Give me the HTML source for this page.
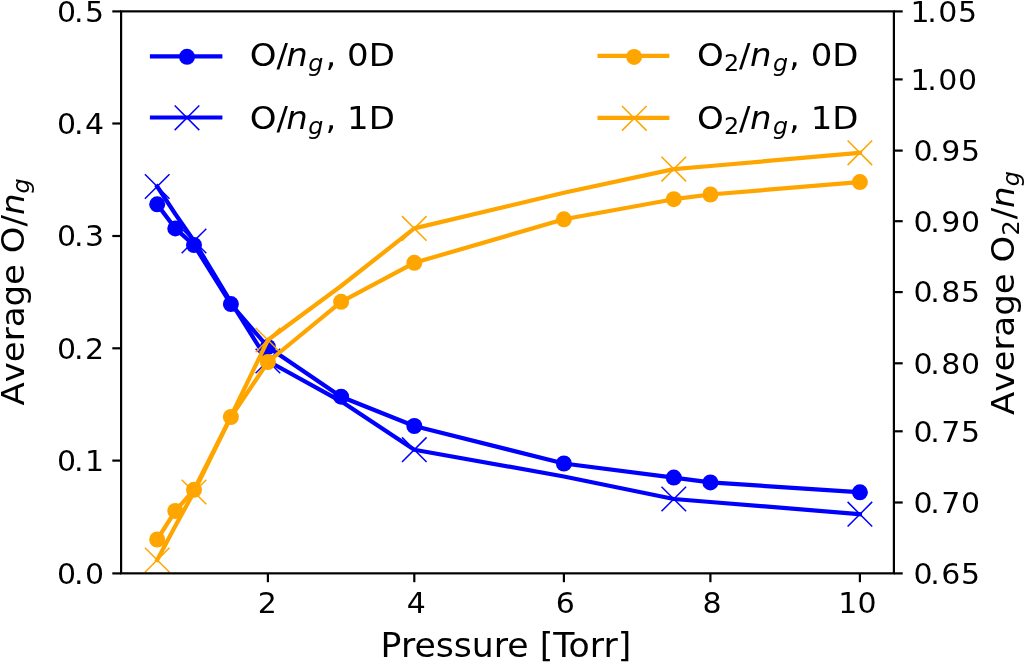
<!DOCTYPE html><html><head><meta charset="utf-8"><title>Average O/ng vs Pressure</title><style>html,body{margin:0;padding:0;background:#fff;overflow:hidden}svg{display:block}text{font-family:"DejaVu Sans","Liberation Sans",sans-serif}</style></head><body>
<svg width="1025" height="665" viewBox="0 0 1025 665">
<rect width="1025" height="665" fill="#fff"/>
<defs><clipPath id="ax"><rect x="121.1" y="11.35" width="772.8" height="562.0"/></clipPath></defs>
<g clip-path="url(#ax)">
<polyline points="157.2,204.3 175.3,228.4 194.0,245.1 230.9,304.1 267.9,347.0 341.1,396.7 414.3,426.0 563.9,463.5 673.8,477.6 710.4,482.4 859.9,492.3" fill="none" stroke="#0000ff" stroke-width="4.2" stroke-linejoin="round" stroke-linecap="square"/>
<circle cx="157.2" cy="204.3" r="8.0" fill="#0000ff"/><circle cx="175.3" cy="228.4" r="8.0" fill="#0000ff"/><circle cx="194.0" cy="245.1" r="8.0" fill="#0000ff"/><circle cx="230.9" cy="304.1" r="8.0" fill="#0000ff"/><circle cx="267.9" cy="347.0" r="8.0" fill="#0000ff"/><circle cx="341.1" cy="396.7" r="8.0" fill="#0000ff"/><circle cx="414.3" cy="426.0" r="8.0" fill="#0000ff"/><circle cx="563.9" cy="463.5" r="8.0" fill="#0000ff"/><circle cx="673.8" cy="477.6" r="8.0" fill="#0000ff"/><circle cx="710.4" cy="482.4" r="8.0" fill="#0000ff"/><circle cx="859.9" cy="492.3" r="8.0" fill="#0000ff"/>
<polyline points="157.2,186.5 175.3,214.0 194.0,241.0 230.9,302.0 267.9,361.0 341.1,401.3 414.3,449.7 563.9,476.5 673.8,499.0 710.4,502.0 859.9,514.2" fill="none" stroke="#0000ff" stroke-width="4.2" stroke-linejoin="round" stroke-linecap="square"/>
<path d="M144.9,174.2L169.5,198.8M144.9,198.8L169.5,174.2" stroke="#0000ff" stroke-width="1.5" fill="none"/><path d="M181.7,228.7L206.3,253.3M181.7,253.3L206.3,228.7" stroke="#0000ff" stroke-width="1.5" fill="none"/><path d="M255.6,348.7L280.2,373.3M255.6,373.3L280.2,348.7" stroke="#0000ff" stroke-width="1.5" fill="none"/><path d="M402.0,437.4L426.6,462.0M402.0,462.0L426.6,437.4" stroke="#0000ff" stroke-width="1.5" fill="none"/><path d="M661.5,486.7L686.1,511.3M661.5,511.3L686.1,486.7" stroke="#0000ff" stroke-width="1.5" fill="none"/><path d="M847.6,501.9L872.2,526.5M847.6,526.5L872.2,501.9" stroke="#0000ff" stroke-width="1.5" fill="none"/>
<polyline points="157.2,539.5 175.3,511.0 194.0,489.8 230.9,417.0 267.9,362.0 341.1,301.8 414.3,262.8 563.9,219.3 673.8,199.2 710.4,194.5 859.9,182.1" fill="none" stroke="#ffa500" stroke-width="4.2" stroke-linejoin="round" stroke-linecap="square"/>
<circle cx="157.2" cy="539.5" r="8.0" fill="#ffa500"/><circle cx="175.3" cy="511.0" r="8.0" fill="#ffa500"/><circle cx="194.0" cy="489.8" r="8.0" fill="#ffa500"/><circle cx="230.9" cy="417.0" r="8.0" fill="#ffa500"/><circle cx="267.9" cy="362.0" r="8.0" fill="#ffa500"/><circle cx="341.1" cy="301.8" r="8.0" fill="#ffa500"/><circle cx="414.3" cy="262.8" r="8.0" fill="#ffa500"/><circle cx="563.9" cy="219.3" r="8.0" fill="#ffa500"/><circle cx="673.8" cy="199.2" r="8.0" fill="#ffa500"/><circle cx="710.4" cy="194.5" r="8.0" fill="#ffa500"/><circle cx="859.9" cy="182.1" r="8.0" fill="#ffa500"/>
<polyline points="157.2,560.0 175.3,526.0 194.0,492.0 230.9,416.5 267.9,340.0 341.1,286.0 414.3,228.4 563.9,192.8 673.8,169.1 710.4,166.0 859.9,152.8" fill="none" stroke="#ffa500" stroke-width="4.2" stroke-linejoin="round" stroke-linecap="square"/>
<path d="M144.9,547.7L169.5,572.3M144.9,572.3L169.5,547.7" stroke="#ffa500" stroke-width="1.5" fill="none"/><path d="M181.7,479.7L206.3,504.3M181.7,504.3L206.3,479.7" stroke="#ffa500" stroke-width="1.5" fill="none"/><path d="M255.6,327.7L280.2,352.3M255.6,352.3L280.2,327.7" stroke="#ffa500" stroke-width="1.5" fill="none"/><path d="M402.0,216.1L426.6,240.7M402.0,240.7L426.6,216.1" stroke="#ffa500" stroke-width="1.5" fill="none"/><path d="M661.5,156.8L686.1,181.4M661.5,181.4L686.1,156.8" stroke="#ffa500" stroke-width="1.5" fill="none"/><path d="M847.6,140.5L872.2,165.1M847.6,165.1L872.2,140.5" stroke="#ffa500" stroke-width="1.5" fill="none"/>
</g>
<line x1="152" y1="56.4" x2="220.3" y2="56.4" stroke="#0000ff" stroke-width="4.2" stroke-linecap="square"/>
<circle cx="187.0" cy="56.8" r="8.0" fill="#0000ff"/>
<line x1="152" y1="117.5" x2="220.3" y2="117.5" stroke="#0000ff" stroke-width="4.2" stroke-linecap="square"/>
<path d="M174.7,105.5L199.3,130.1M174.7,130.1L199.3,105.5" stroke="#0000ff" stroke-width="1.5" fill="none"/>
<line x1="599.6" y1="55.9" x2="667.3" y2="55.9" stroke="#ffa500" stroke-width="4.2" stroke-linecap="square"/>
<circle cx="634.1" cy="56.9" r="8.0" fill="#ffa500"/>
<line x1="599.6" y1="117.9" x2="667.3" y2="117.9" stroke="#ffa500" stroke-width="4.2" stroke-linecap="square"/>
<path d="M622.0,106.0L646.6,130.6M622.0,130.6L646.6,106.0" stroke="#ffa500" stroke-width="1.5" fill="none"/>
<g font-size="34.0" fill="#000">
<text transform="translate(249.7 65.8) scale(1 0.94)"><tspan x="0.00" y="0">O</tspan><tspan x="26.76" y="0">/</tspan><tspan x="36.52" y="0" font-style="oblique">n</tspan><tspan x="58.58" y="5.58" font-size="23.80" font-style="oblique">g</tspan><tspan x="75.80" y="0">,</tspan><tspan x="97.42" y="0">0</tspan><tspan x="119.05" y="0">D</tspan></text>
<text transform="translate(249.7 128.9) scale(1 0.94)"><tspan x="0.00" y="0">O</tspan><tspan x="26.76" y="0">/</tspan><tspan x="36.52" y="0" font-style="oblique">n</tspan><tspan x="58.58" y="5.58" font-size="23.80" font-style="oblique">g</tspan><tspan x="75.80" y="0">,</tspan><tspan x="97.42" y="0">1</tspan><tspan x="119.05" y="0">D</tspan></text>
<text transform="translate(696.9 65.8) scale(1 0.94)"><tspan x="0.00" y="0">O</tspan><tspan x="27.09" y="5.58" font-size="23.80">2</tspan><tspan x="42.14" y="0">/</tspan><tspan x="53.08" y="0" font-style="oblique">n</tspan><tspan x="76.16" y="5.58" font-size="23.80" font-style="oblique">g</tspan><tspan x="92.20" y="0">,</tspan><tspan x="113.82" y="0">0</tspan><tspan x="135.45" y="0">D</tspan></text>
<text transform="translate(696.9 128.9) scale(1 0.94)"><tspan x="0.00" y="0">O</tspan><tspan x="27.09" y="5.58" font-size="23.80">2</tspan><tspan x="42.14" y="0">/</tspan><tspan x="53.08" y="0" font-style="oblique">n</tspan><tspan x="76.16" y="5.58" font-size="23.80" font-style="oblique">g</tspan><tspan x="92.20" y="0">,</tspan><tspan x="113.82" y="0">1</tspan><tspan x="135.45" y="0">D</tspan></text>
</g>
<g stroke="#000" stroke-width="2.2" font-size="30.0" fill="#000">
<line x1="112.3" y1="573.40" x2="121.1" y2="573.40"/>
<text stroke="none" transform="translate(56.99 583.75) scale(1 0.95)"><tspan x="0.00">0</tspan><tspan x="16.89">.</tspan><tspan x="27.92">0</tspan></text>
<line x1="112.3" y1="460.60" x2="121.1" y2="460.60"/>
<text stroke="none" transform="translate(56.99 470.95) scale(1 0.95)"><tspan x="0.00">0</tspan><tspan x="16.89">.</tspan><tspan x="27.92">1</tspan></text>
<line x1="112.3" y1="348.30" x2="121.1" y2="348.30"/>
<text stroke="none" transform="translate(56.99 358.65) scale(1 0.95)"><tspan x="0.00">0</tspan><tspan x="16.89">.</tspan><tspan x="27.92">2</tspan></text>
<line x1="112.3" y1="236.00" x2="121.1" y2="236.00"/>
<text stroke="none" transform="translate(56.99 246.35) scale(1 0.95)"><tspan x="0.00">0</tspan><tspan x="16.89">.</tspan><tspan x="27.92">3</tspan></text>
<line x1="112.3" y1="123.50" x2="121.1" y2="123.50"/>
<text stroke="none" transform="translate(56.99 133.85) scale(1 0.95)"><tspan x="0.00">0</tspan><tspan x="16.89">.</tspan><tspan x="27.92">4</tspan></text>
<line x1="112.3" y1="11.40" x2="121.1" y2="11.40"/>
<text stroke="none" transform="translate(56.99 21.75) scale(1 0.95)"><tspan x="0.00">0</tspan><tspan x="16.89">.</tspan><tspan x="27.92">5</tspan></text>
<line x1="893.9" y1="573.40" x2="902.7" y2="573.40"/>
<text stroke="none" transform="translate(913.4 583.75) scale(1 0.95)"><tspan x="0.00">0</tspan><tspan x="16.89">.</tspan><tspan x="27.92">6</tspan><tspan x="47.71">5</tspan></text>
<line x1="893.9" y1="502.50" x2="902.7" y2="502.50"/>
<text stroke="none" transform="translate(913.4 512.85) scale(1 0.95)"><tspan x="0.00">0</tspan><tspan x="16.89">.</tspan><tspan x="27.92">7</tspan><tspan x="47.71">0</tspan></text>
<line x1="893.9" y1="431.30" x2="902.7" y2="431.30"/>
<text stroke="none" transform="translate(913.4 441.65) scale(1 0.95)"><tspan x="0.00">0</tspan><tspan x="16.89">.</tspan><tspan x="27.92">7</tspan><tspan x="47.71">5</tspan></text>
<line x1="893.9" y1="363.30" x2="902.7" y2="363.30"/>
<text stroke="none" transform="translate(913.4 373.65) scale(1 0.95)"><tspan x="0.00">0</tspan><tspan x="16.89">.</tspan><tspan x="27.92">8</tspan><tspan x="47.71">0</tspan></text>
<line x1="893.9" y1="292.10" x2="902.7" y2="292.10"/>
<text stroke="none" transform="translate(913.4 302.45) scale(1 0.95)"><tspan x="0.00">0</tspan><tspan x="16.89">.</tspan><tspan x="27.92">8</tspan><tspan x="47.71">5</tspan></text>
<line x1="893.9" y1="221.20" x2="902.7" y2="221.20"/>
<text stroke="none" transform="translate(913.4 231.55) scale(1 0.95)"><tspan x="0.00">0</tspan><tspan x="16.89">.</tspan><tspan x="27.92">9</tspan><tspan x="47.71">0</tspan></text>
<line x1="893.9" y1="150.60" x2="902.7" y2="150.60"/>
<text stroke="none" transform="translate(913.4 160.95) scale(1 0.95)"><tspan x="0.00">0</tspan><tspan x="16.89">.</tspan><tspan x="27.92">9</tspan><tspan x="47.71">5</tspan></text>
<line x1="893.9" y1="79.40" x2="902.7" y2="79.40"/>
<text stroke="none" transform="translate(910.4 89.75) scale(1 0.95)"><tspan x="0.00">1</tspan><tspan x="16.89">.</tspan><tspan x="27.92">0</tspan><tspan x="47.71">0</tspan></text>
<line x1="893.9" y1="11.40" x2="902.7" y2="11.40"/>
<text stroke="none" transform="translate(910.4 21.75) scale(1 0.95)"><tspan x="0.00">1</tspan><tspan x="16.89">.</tspan><tspan x="27.92">0</tspan><tspan x="47.71">5</tspan></text>
<line x1="267.9" y1="573.4" x2="267.9" y2="582.2"/>
<text stroke="none" transform="translate(267.3 612.7) scale(1 0.95)" text-anchor="middle">2</text>
<line x1="414.3" y1="573.4" x2="414.3" y2="582.2"/>
<text stroke="none" transform="translate(416.3 612.7) scale(1 0.95)" text-anchor="middle">4</text>
<line x1="563.9" y1="573.4" x2="563.9" y2="582.2"/>
<text stroke="none" transform="translate(565.3 612.7) scale(1 0.95)" text-anchor="middle">6</text>
<line x1="710.4" y1="573.4" x2="710.4" y2="582.2"/>
<text stroke="none" transform="translate(712.0 612.7) scale(1 0.95)" text-anchor="middle">8</text>
<line x1="859.9" y1="573.4" x2="859.9" y2="582.2"/>
<text stroke="none" transform="translate(857.4 612.7) scale(1 0.95)" text-anchor="middle">10</text>
</g>
<rect x="121.1" y="11.35" width="772.8" height="562.0" fill="none" stroke="#000" stroke-width="2.2" stroke-linejoin="miter"/>
<text transform="translate(380.6 657.3) scale(1 0.953)" font-size="34.7" fill="#000">Pressure [Torr]</text>
<text transform="translate(24.3 405.6) rotate(-90) scale(1 0.93)" font-size="34.0" fill="#000"><tspan x="0.00" y="0">A</tspan><tspan x="23.26" y="0">v</tspan><tspan x="43.38" y="0">e</tspan><tspan x="64.30" y="0">r</tspan><tspan x="78.28" y="0">a</tspan><tspan x="99.11" y="0">g</tspan><tspan x="120.69" y="0">e</tspan><tspan x="152.42" y="0">O</tspan><tspan x="179.18" y="0">/</tspan><tspan x="190.64" y="0" font-style="oblique">n</tspan><tspan x="212.18" y="5.58" font-size="23.80" font-style="oblique">g</tspan></text>
<text transform="translate(1014.3 414.9) rotate(-90) scale(1 0.93)" font-size="34.0" fill="#000"><tspan x="0.00" y="0">A</tspan><tspan x="23.26" y="0">v</tspan><tspan x="43.38" y="0">e</tspan><tspan x="64.30" y="0">r</tspan><tspan x="78.28" y="0">a</tspan><tspan x="99.11" y="0">g</tspan><tspan x="120.69" y="0">e</tspan><tspan x="152.42" y="0">O</tspan><tspan x="179.51" y="5.58" font-size="23.80">2</tspan><tspan x="195.58" y="0">/</tspan><tspan x="207.03" y="0" font-style="oblique">n</tspan><tspan x="228.58" y="5.58" font-size="23.80" font-style="oblique">g</tspan></text>
</svg></body></html>
